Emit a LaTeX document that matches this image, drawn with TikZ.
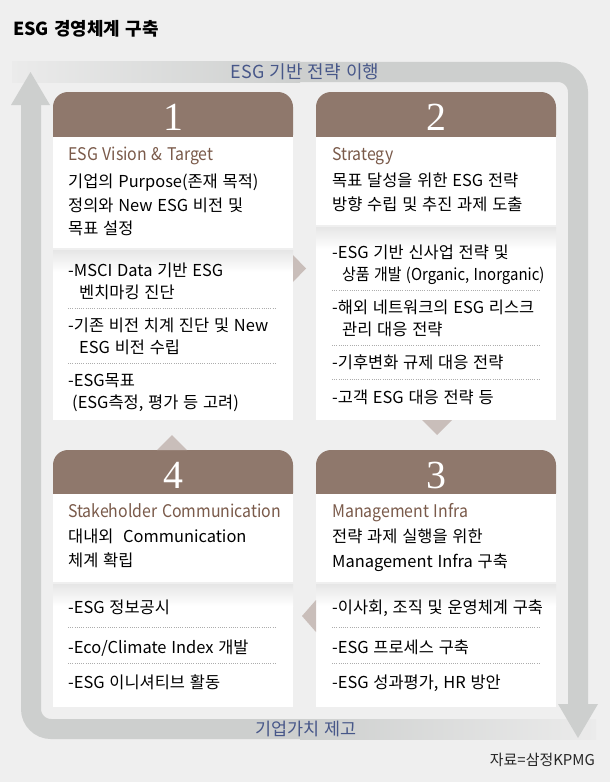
\documentclass[tikz,border=0pt]{standalone}
\usepackage{fontspec}
\setmainfont{Noto Sans CJK KR}[WordSpace=1.3]
\newfontfamily\narrowfont{Noto Sans CJK KR}[WordSpace=1.3, FakeStretch=0.91]
\newfontfamily\numfont{Liberation Serif}
\definecolor{bg}{HTML}{EFEFEF}
\definecolor{band}{HTML}{CDCFCE}
\definecolor{bandlight}{HTML}{EBEBEB}
\definecolor{hdr}{HTML}{8F786C}
\definecolor{headbrown}{HTML}{7A5A4A}
\definecolor{tri}{HTML}{C9BEBA}
\definecolor{bandtext}{HTML}{475789}
\definecolor{dots}{HTML}{ADADAD}
\definecolor{listtop}{HTML}{E6E6E6}
\tikzset{
  txt/.style={anchor=base west, inner sep=0pt, font=\fontsize{16.5}{20}\selectfont, text=black},
  head/.style={txt, font=\narrowfont\fontsize{17.5}{20}\selectfont, text=headbrown},
  narrowtxt/.style={txt, font=\narrowfont\fontsize{16.5}{20}\selectfont},
  num/.style={anchor=base, inner sep=0pt, font=\numfont\fontsize{40}{40}\selectfont, text=white},
  sepline/.style={dots, line width=0.8bp, dash pattern=on 0.8bp off 1.4bp},
  loopband/.style={band, line width=20bp, rounded corners=20bp},
  conn/.style={tri},
  bandlabel/.style={anchor=base, inner sep=0pt, font=\fontsize{18}{20}\selectfont, text=bandtext},
}
\begin{document}
\begin{tikzpicture}[x=1bp,y=-1bp]
\useasboundingbox (0,0) rectangle (610,782);
\fill[bg] (0,0) rectangle (610,782);

% title
\node[anchor=base west, inner sep=0pt, font=\bfseries\fontsize{18}{20}\selectfont] (title) at (13,36) {ESG 경영체계 구축};

% loop arrow A (top -> right -> down)
\shade[left color=bandlight, right color=band] (12,62) rectangle (300,82);
\draw[loopband] (299,72) -- (578,72) -- (578,705);
% loop arrow B (bottom -> left -> up)
\shade[left color=band, right color=bandlight] (300,719) rectangle (596,739);
\draw[loopband] (301,729) -- (31,729) -- (31,104);
\coordinate (tipA) at (578,738);
\coordinate (tipB) at (30.5,72);
\fill[band] (558,704) -- (598,704) -- (tipA) -- cycle;
\fill[band] (11,105) -- (50,105) -- (tipB) -- cycle;

\node[bandlabel] (lbltop) at (305,78.5) {ESG 기반 전략 이행};
\node[bandlabel, font=\fontsize{17.5}{20}\selectfont] (lblbot) at (306,735) {기업가치 제고};

% ---------- box 1 ----------
\fill[hdr, rounded corners=15bp] (53,92) rectangle (293,150);
\fill[white] (53,137) rectangle (293,248);
\shade[top color=listtop, bottom color=white] (53,250) rectangle (293,272);
\fill[white] (53,271.5) rectangle (293,420);
% ---------- box 2 ----------
\fill[hdr, rounded corners=15bp] (316,92) rectangle (556,150);
\fill[white] (316,137) rectangle (556,225);
\shade[top color=listtop, bottom color=white] (316,227) rectangle (556,249);
\fill[white] (316,248.5) rectangle (556,420);
% ---------- box 4 ----------
\fill[hdr, rounded corners=15bp] (53,450) rectangle (293,508);
\fill[white] (53,494) rectangle (293,582);
\shade[top color=listtop, bottom color=white] (53,584) rectangle (293,606);
\fill[white] (53,605.5) rectangle (293,707);
% ---------- box 3 ----------
\fill[hdr, rounded corners=15bp] (316,450) rectangle (556,508);
\fill[white] (316,494) rectangle (556,582);
\shade[top color=listtop, bottom color=white] (316,584) rectangle (556,606);
\fill[white] (316,605.5) rectangle (556,707);

% connectors between boxes
\coordinate (c12) at (306,268.5);
\coordinate (c23) at (437,435);
\coordinate (c34) at (302,616);
\coordinate (c41) at (172,435);
\fill[conn] (293,255) -- (c12) -- (293,282) -- cycle;
\fill[conn] (422,420) -- (452,420) -- (c23) -- cycle;
\fill[conn] (316,600) -- (c34) -- (316,632) -- cycle;
\fill[conn] (157,450) -- (187,450) -- (c41) -- cycle;

% numbers
\node[num] (n1) at (173,130) {1};
\node[num] (n2) at (436,130) {2};
\node[num] (n4) at (173,488) {4};
\node[num] (n3) at (436,488) {3};

% box 1 texts
\node[head] (h1) at (68,160) {ESG Vision \& Target};
\node[txt] (a1) at (68,187) {기업의 Purpose(존재 목적)};
\node[txt] (a2) at (68,211) {정의와 New ESG 비전 및};
\node[txt] (a3) at (68,234) {목표 설정};
\node[txt] (l11) at (68,276) {-MSCI Data 기반 ESG};
\node[txt] (l12) at (79,298) {벤치마킹 진단};
\draw[sepline] (68,308) -- (276,308);
\node[txt] (l13) at (68,331) {-기존 비전 치계 진단 및 New};
\node[txt] (l14) at (79,353) {ESG 비전 수립};
\draw[sepline] (68,363) -- (276,363);
\node[txt] (l15) at (68,386) {-ESG목표};
\node[txt] (l16) at (72,408) {(ESG측정, 평가 등 고려)};

% box 2 texts
\node[head] (h2) at (332,160) {Strategy};
\node[txt] (b1) at (332,186) {목표 달성을 위한 ESG 전략};
\node[txt] (b2) at (332,210) {방향 수립 및 추진 과제 도출};
\node[txt] (l21) at (332,258) {-ESG 기반 신사업 전략 및};
\node[narrowtxt] (l22) at (342,280) {상품 개발 (Organic, Inorganic)};
\draw[sepline] (332,290) -- (540,290);
\node[txt] (l23) at (332,313) {-해외 네트워크의 ESG 리스크};
\node[txt] (l24) at (342,335) {관리 대응 전략};
\draw[sepline] (332,345) -- (540,345);
\node[txt] (l25) at (332,368) {-기후변화 규제 대응 전략};
\draw[sepline] (332,379) -- (540,379);
\node[txt] (l26) at (332,403) {-고객 ESG 대응 전략 등};

% box 4 texts
\node[head] (h4) at (68,517) {Stakeholder Communication};
\node[txt] (d1) at (68,542) {대내외\ \ Communication};
\node[txt] (d2) at (68,566) {체계 확립};
\node[txt] (l41) at (68,613) {-ESG 정보공시};
\draw[sepline] (68,627) -- (276,627);
\node[txt] (l42) at (68,653) {-Eco/Climate Index 개발};
\draw[sepline] (68,663) -- (276,663);
\node[txt] (l43) at (68,688) {-ESG 이니셔티브 활동};

% box 3 texts
\node[head] (h3) at (332,517) {Management Infra};
\node[txt] (e1) at (332,542) {전략 과제 실행을 위한};
\node[txt] (e2) at (332,567) {Management Infra 구축};
\node[txt] (l31) at (332,613) {-이사회, 조직 및 운영체계 구축};
\draw[sepline] (332,627) -- (540,627);
\node[txt] (l32) at (332,653) {-ESG 프로세스 구축};
\draw[sepline] (332,663) -- (540,663);
\node[txt] (l33) at (332,688) {-ESG 성과평가, HR 방안};

% source
\node[anchor=base east, inner sep=0pt, font=\fontsize{15}{18}\selectfont, text=black!85] (src) at (595,765) {자료=삼정KPMG};
\end{tikzpicture}
\end{document}
